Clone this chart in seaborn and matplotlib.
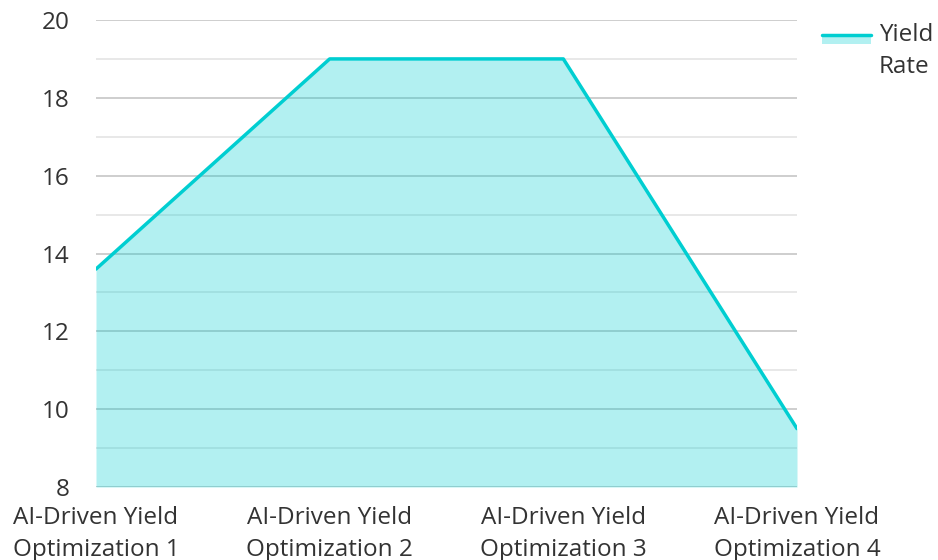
import matplotlib
matplotlib.use("Agg")
import matplotlib.pyplot as plt
import seaborn as sns
import pandas as pd
from matplotlib.legend_handler import HandlerBase
from matplotlib.patches import Rectangle
from matplotlib.lines import Line2D

categories = ["AI-Driven Yield\nOptimization 1", "AI-Driven Yield\nOptimization 2",
              "AI-Driven Yield\nOptimization 3", "AI-Driven Yield\nOptimization 4"]
yield_rate = [13.6, 19.0, 19.0, 9.5]
series_name = "Yield\nRate"
y_ticks = [8, 10, 12, 14, 16, 18, 20]
y_minor = [9, 11, 13, 15, 17, 19]

sns.set_theme(style="white")
plt.rcParams['font.family'] = ['Open Sans', 'DejaVu Sans']

line_color = "#00CED1"
text_color = "#333333"
fs = 17.5

df = pd.DataFrame({"x": range(len(categories)), "y": yield_rate})

fig = plt.figure(figsize=(9.38, 5.6), dpi=100)
ax = fig.add_axes([96/938, 1 - 487/560, (797 - 96)/938, (487 - 20)/560])

ax.grid(True, which="major", axis="y", color="#c6c6c6", linewidth=1.2, zorder=0)
ax.grid(True, which="minor", axis="y", color="#e4e4e4", linewidth=1.2, zorder=0)
ax.set_axisbelow(True)
ax.fill_between(df["x"], df["y"], 8, color=line_color, alpha=0.3, linewidth=0, zorder=2)
sns.lineplot(data=df, x="x", y="y", ax=ax, color=line_color, linewidth=2.5, zorder=3, legend=False)

ax.set_xlim(0, len(categories) - 1)
ax.set_ylim(8, 20)
ax.set_yticks(y_ticks)
ax.set_yticks(y_minor, minor=True)
ax.set_xticks(range(len(categories)))
ax.set_xticklabels(categories, linespacing=1.4, fontsize=17.8)
for s in ax.spines.values():
    s.set_visible(False)
ax.tick_params(axis="both", which="both", length=0, labelsize=fs, colors=text_color)
ax.tick_params(axis="y", pad=19)
ax.tick_params(axis="x", pad=14)
ax.set_xlabel("")
ax.set_ylabel("")


class AreaHandler(HandlerBase):
    def create_artists(self, legend, orig_handle, xdescent, ydescent, width, height, fontsize, trans):
        shift = 6
        top = height + shift
        rect = Rectangle((-xdescent, -ydescent + top - 7), width, 7,
                         facecolor=line_color, alpha=0.3, edgecolor="none", transform=trans)
        ln = Line2D([-xdescent, -xdescent + width], [-ydescent + top, -ydescent + top],
                    color=line_color, linewidth=2.5, transform=trans)
        return [rect, ln]


handle = Rectangle((0, 0), 1, 1)
leg = fig.legend([handle], [series_name], handler_map={Rectangle: AreaHandler()},
                 loc="upper left", bbox_to_anchor=(822/938, 1 - 23/560), frameon=False,
                 borderpad=0, borderaxespad=0,
                 fontsize=fs, handlelength=2.0, handletextpad=0.33, labelcolor=text_color)
for t in leg.get_texts():
    t.set_linespacing(1.45)

fig.savefig("out.png", dpi=100)
